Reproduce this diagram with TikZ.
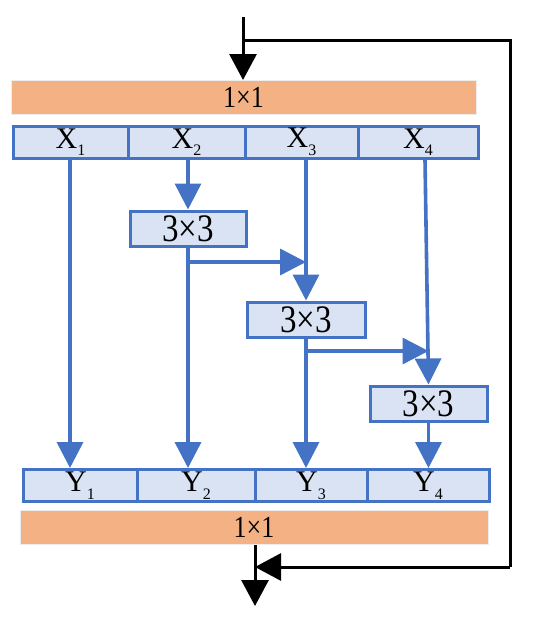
\documentclass[tikz,border=0pt]{standalone}
\usepackage{fontspec}
\setmainfont{Liberation Serif}
\usetikzlibrary{arrows.meta, positioning, calc}

\definecolor{lineblue}{HTML}{4472C4}
\definecolor{cellblue}{HTML}{DAE3F3}
\definecolor{convorange}{HTML}{F4B183}

% label with lowered subscript
\newcommand{\sublab}[2]{#1\raisebox{-0.55ex}{\fontsize{16}{16}\selectfont #2}}
% kernel size, a little stretched upward
\newcommand{\ksize}[1]{\scalebox{1}[1.18]{#1}}

\begin{document}
\begin{tikzpicture}[x=1pt, y=-1pt,
  conv/.style={fill=convorange, draw=gray!15, line width=1pt, inner sep=0pt,
    minimum height=34pt, font=\fontsize{26}{26}\selectfont},
  cell/.style={fill=cellblue, draw=lineblue, line width=3pt, inner sep=0pt,
    minimum height=32pt, font=\fontsize{30}{30}\selectfont},
  kbox/.style={cell, minimum height=35pt, font=\fontsize{33}{33}\selectfont},
  flow/.style={draw=lineblue, line width=3.6pt, -{Triangle[length=26pt, width=26pt]}},
  skip/.style={draw=black, line width=3pt, -{Triangle[length=26pt, width=27pt]}}]
  \useasboundingbox (0,0) rectangle (550,621);

  % 1x1 layers
  \node[conv, minimum width=465pt] (inconv) at (243.5, 97.5) {\ksize{1×1}};
  \node[conv, minimum width=468pt] (outconv) at (254, 527.5) {\ksize{1×1}};

  % split X row
  \node[cell, minimum width=115pt] (x1) at (70.5, 142) {\sublab{X}{1}};
  \node[cell, minimum width=117pt] (x2) at (186.5, 142) {\sublab{X}{2}};
  \node[cell, minimum width=113pt] (x3) at (301.5, 142) {\sublab{X}{3}};
  \node[cell, minimum width=120pt] (x4) at (418, 142) {\sublab{X}{4}};

  % 3x3 convolutions
  \node[kbox, minimum width=116pt] (k1) at (188, 228.5) {\ksize{3×3}};
  \node[kbox, minimum width=118pt] (k2) at (306, 319.5) {\ksize{3×3}};
  \node[kbox, minimum width=117pt] (k3) at (428.5, 403.5) {\ksize{3×3}};

  % concatenated Y row
  \node[cell, minimum width=114pt] (y1) at (80, 485.5) {\sublab{Y}{1}};
  \node[cell, minimum width=118pt] (y2) at (196, 485.5) {\sublab{Y}{2}};
  \node[cell, minimum width=112pt] (y3) at (311, 485.5) {\sublab{Y}{3}};
  \node[cell, minimum width=122pt] (y4) at (428, 485.5) {\sublab{Y}{4}};

  % input, shortcut and output
  \coordinate (in) at (243, 17);
  \coordinate (split) at (243, 40);
  \coordinate (corner) at (510, 40);
  \coordinate (out) at (255, 606);
  \draw[skip] (in) -- (inconv.north -| in);
  \draw[line width=3pt] (split) -- (corner) -- (corner |- 0,567);
  \draw[skip] (corner |- 0,567) -- (out |- 0,567);
  \draw[skip] (outconv.south -| out) -- (out);

  % hierarchical branches
  \coordinate (b1) at (188, 262);
  \coordinate (b2) at (308, 351);
  \draw[flow] (x1.south -| 70,0) -- (y1.north -| 70,0);
  \draw[flow] (x2.south -| k1.north) -- (k1.north);
  \draw[flow] (k1.south) -- (y2.north -| k1.south);
  \draw[flow] (x3.south -| k2.north) -- (k2.north);
  \draw[flow] (k2.south) -- (y3.north -| k2.south);
  \draw[flow] (x4.south -| 425,0) -- (k3.north);
  \draw[flow] (k3.south) -- (y4.north -| k3.south);
  \draw[flow] (b1) -- (b1 -| k2.north);
  \draw[flow] (b2) -- (b2 -| k3.north);
\end{tikzpicture}
\end{document}
